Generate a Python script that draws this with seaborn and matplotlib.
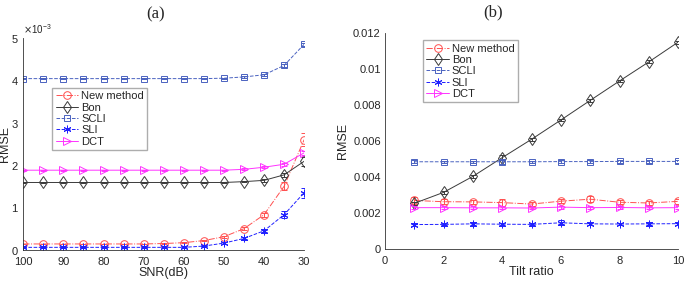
import numpy as np
import pandas as pd
import seaborn as sns
import matplotlib.pyplot as plt
from matplotlib.ticker import FuncFormatter, ScalarFormatter

# ---- data, panel (a): RMSE vs SNR ----
snr = [100, 95, 90, 85, 80, 75, 70, 65, 60, 55, 50, 45, 40, 35, 30]
a_new = [0.14, 0.14, 0.14, 0.14, 0.14, 0.14, 0.14, 0.15, 0.17, 0.22, 0.31, 0.50, 0.83, 1.50, 2.60]
a_bon = [1.59, 1.59, 1.59, 1.59, 1.59, 1.59, 1.59, 1.59, 1.59, 1.59, 1.59, 1.61, 1.64, 1.77, 2.09]
a_scli = [4.04, 4.04, 4.04, 4.04, 4.04, 4.04, 4.04, 4.04, 4.04, 4.04, 4.05, 4.08, 4.13, 4.35, 4.85]
a_sli = [0.06, 0.06, 0.06, 0.06, 0.06, 0.06, 0.06, 0.06, 0.06, 0.09, 0.16, 0.27, 0.45, 0.83, 1.35]
a_dct = [1.88, 1.88, 1.88, 1.88, 1.88, 1.88, 1.88, 1.88, 1.88, 1.88, 1.88, 1.90, 1.95, 2.02, 2.29]
a_new_err = [0.01, 0.01, 0.01, 0.01, 0.01, 0.01, 0.01, 0.01, 0.01, 0.02, 0.02, 0.03, 0.05, 0.09, 0.15]
a_bon_err = [0.01, 0.01, 0.01, 0.01, 0.01, 0.01, 0.01, 0.01, 0.01, 0.01, 0.01, 0.02, 0.03, 0.05, 0.10]
a_scli_err = [0.01, 0.01, 0.01, 0.01, 0.01, 0.01, 0.01, 0.01, 0.01, 0.01, 0.01, 0.02, 0.02, 0.03, 0.04]
a_sli_err = [0.01, 0.01, 0.01, 0.01, 0.01, 0.01, 0.01, 0.01, 0.01, 0.01, 0.02, 0.03, 0.04, 0.08, 0.12]
a_dct_err = [0.01, 0.01, 0.01, 0.01, 0.01, 0.01, 0.01, 0.01, 0.01, 0.01, 0.01, 0.02, 0.02, 0.03, 0.05]

# ---- data, panel (b): RMSE vs tilt ratio ----
tilt = [1, 2, 3, 4, 5, 6, 7, 8, 9, 10]
b_new = [0.00270, 0.00263, 0.00262, 0.00258, 0.00250, 0.00266, 0.00277, 0.00260, 0.00256, 0.00265]
b_bon = [0.00254, 0.00315, 0.00404, 0.00508, 0.00610, 0.00717, 0.00826, 0.00934, 0.01040, 0.01150]
b_scli = [0.00485, 0.00485, 0.00485, 0.00485, 0.00485, 0.00486, 0.00486, 0.00487, 0.00487, 0.00487]
b_sli = [0.00136, 0.00137, 0.00140, 0.00138, 0.00137, 0.00146, 0.00140, 0.00139, 0.00140, 0.00141]
b_dct = [0.00230, 0.00230, 0.00229, 0.00229, 0.00228, 0.00233, 0.00230, 0.00231, 0.00229, 0.00230]
b_new_err = [0.00020, 0.00015, 0.00012, 0.00020, 0.00012, 0.00012, 0.00018, 0.00012, 0.00010, 0.00012]
b_bon_err = [0.00010, 0.00008, 0.00008, 0.00012, 0.00008, 0.00008, 0.00008, 0.00008, 0.00008, 0.00008]
b_scli_err = [0.00008, 0.00007, 0.00007, 0.00010, 0.00007, 0.00007, 0.00007, 0.00007, 0.00007, 0.00007]
b_sli_err = [0.00008, 0.00010, 0.00010, 0.00008, 0.00008, 0.00015, 0.00008, 0.00008, 0.00012, 0.00010]
b_dct_err = [0.00008, 0.00008, 0.00008, 0.00008, 0.00008, 0.00008, 0.00008, 0.00008, 0.00008, 0.00008]

methods = ["New method", "Bon", "SCLI", "SLI", "DCT"]

styles = {
    "New method": dict(color="#ff5050", ls="-.", marker="o", ms=5.5),
    "Bon": dict(color="#3a3a3a", ls="-", marker="d", ms=6),
    "SCLI": dict(color="#4a62c0", ls="--", marker="s", ms=4),
    "SLI": dict(color="#2020ff", ls="--", marker=(6, 2, 0), ms=5.5),
    "DCT": dict(color="#ff33ff", ls="-", marker=">", ms=5.5),
}

sns.set_theme(style="white")
plt.rcParams["font.family"] = ["Liberation Sans", "DejaVu Sans"]
plt.rcParams["axes.edgecolor"] = "#333333"
plt.rcParams["axes.linewidth"] = 0.6

fig = plt.figure(figsize=(6.85, 2.83), dpi=100)
ax_a = fig.add_axes([0.034, 0.117, 0.410, 0.749])
ax_b = fig.add_axes([0.562, 0.120, 0.428, 0.763])

serif = ["Liberation Serif", "DejaVu Serif"]


def draw_panel(ax, x, series, errs):
    for name, y, e in zip(methods, series, errs):
        st = styles[name]
        df = pd.DataFrame({"x": x, "y": y})
        ax.errorbar(x, y, yerr=e, fmt="none", ecolor=st["color"],
                    elinewidth=0.7, capsize=2, capthick=0.7)
        sns.lineplot(data=df, x="x", y="y", ax=ax, color=st["color"],
                     linestyle=st["ls"], linewidth=0.7, marker=st["marker"],
                     markersize=st["ms"], markerfacecolor="none",
                     markeredgecolor=st["color"], markeredgewidth=0.7,
                     label=name, sort=False)
    ax.tick_params(direction="in", length=3, width=0.6, labelsize=8,
                   colors="#262626")
    ax.tick_params(axis="x", pad=5)
    ax.tick_params(axis="y", pad=3)
    for sp in ["top", "right"]:
        ax.spines[sp].set_visible(False)


def add_legend(ax, anchor):
    ax.legend(loc="upper left", bbox_to_anchor=anchor, fontsize=8,
              frameon=True, fancybox=False, edgecolor="#999999",
              handlelength=2.0, borderpad=0.3, labelspacing=0.12,
              handletextpad=0.3, borderaxespad=0)


# panel (a)
draw_panel(ax_a, snr,
           [np.array(v) * 1e-3 for v in [a_new, a_bon, a_scli, a_sli, a_dct]],
           [np.array(v) * 1e-3 for v in [a_new_err, a_bon_err, a_scli_err, a_sli_err, a_dct_err]])
ax_a.set_xlim(100, 30)
ax_a.set_xticks([100, 90, 80, 70, 60, 50, 40, 30])
ax_a.set_ylim(0, 5e-3)
ax_a.set_yticks(np.arange(0, 6) * 1e-3)
fmt = ScalarFormatter(useMathText=True)
fmt.set_powerlimits((-2, 2))
ax_a.yaxis.set_major_formatter(fmt)
ax_a.yaxis.get_offset_text().set_fontsize(7)
ax_a.set_xlabel("SNR(dB)", fontsize=9, labelpad=0)
ax_a.set_ylabel("RMSE", fontsize=9)
ax_a.yaxis.set_label_coords(-0.045, 0.5)
add_legend(ax_a, (0.103, 0.764))
ax_a.set_title("(a)", fontsize=12, x=0.47, pad=14, fontdict={"family": serif})

# panel (b)
draw_panel(ax_b, tilt,
           [b_new, b_bon, b_scli, b_sli, b_dct],
           [b_new_err, b_bon_err, b_scli_err, b_sli_err, b_dct_err])
ax_b.set_xlim(0, 10)
ax_b.set_xticks([0, 2, 4, 6, 8, 10])
ax_b.set_ylim(0, 0.012)
ax_b.set_yticks(np.arange(0, 7) * 0.002)
ax_b.yaxis.set_major_formatter(FuncFormatter(lambda v, p: f"{v:g}"))
ax_b.set_xlabel("Tilt ratio", fontsize=9, labelpad=0)
ax_b.set_ylabel("RMSE", fontsize=9, labelpad=3)
add_legend(ax_b, (0.13, 0.967))
ax_b.set_title("(b)", fontsize=12, x=0.37, pad=12, fontdict={"family": serif})

fig.savefig("out.png", dpi=100)
